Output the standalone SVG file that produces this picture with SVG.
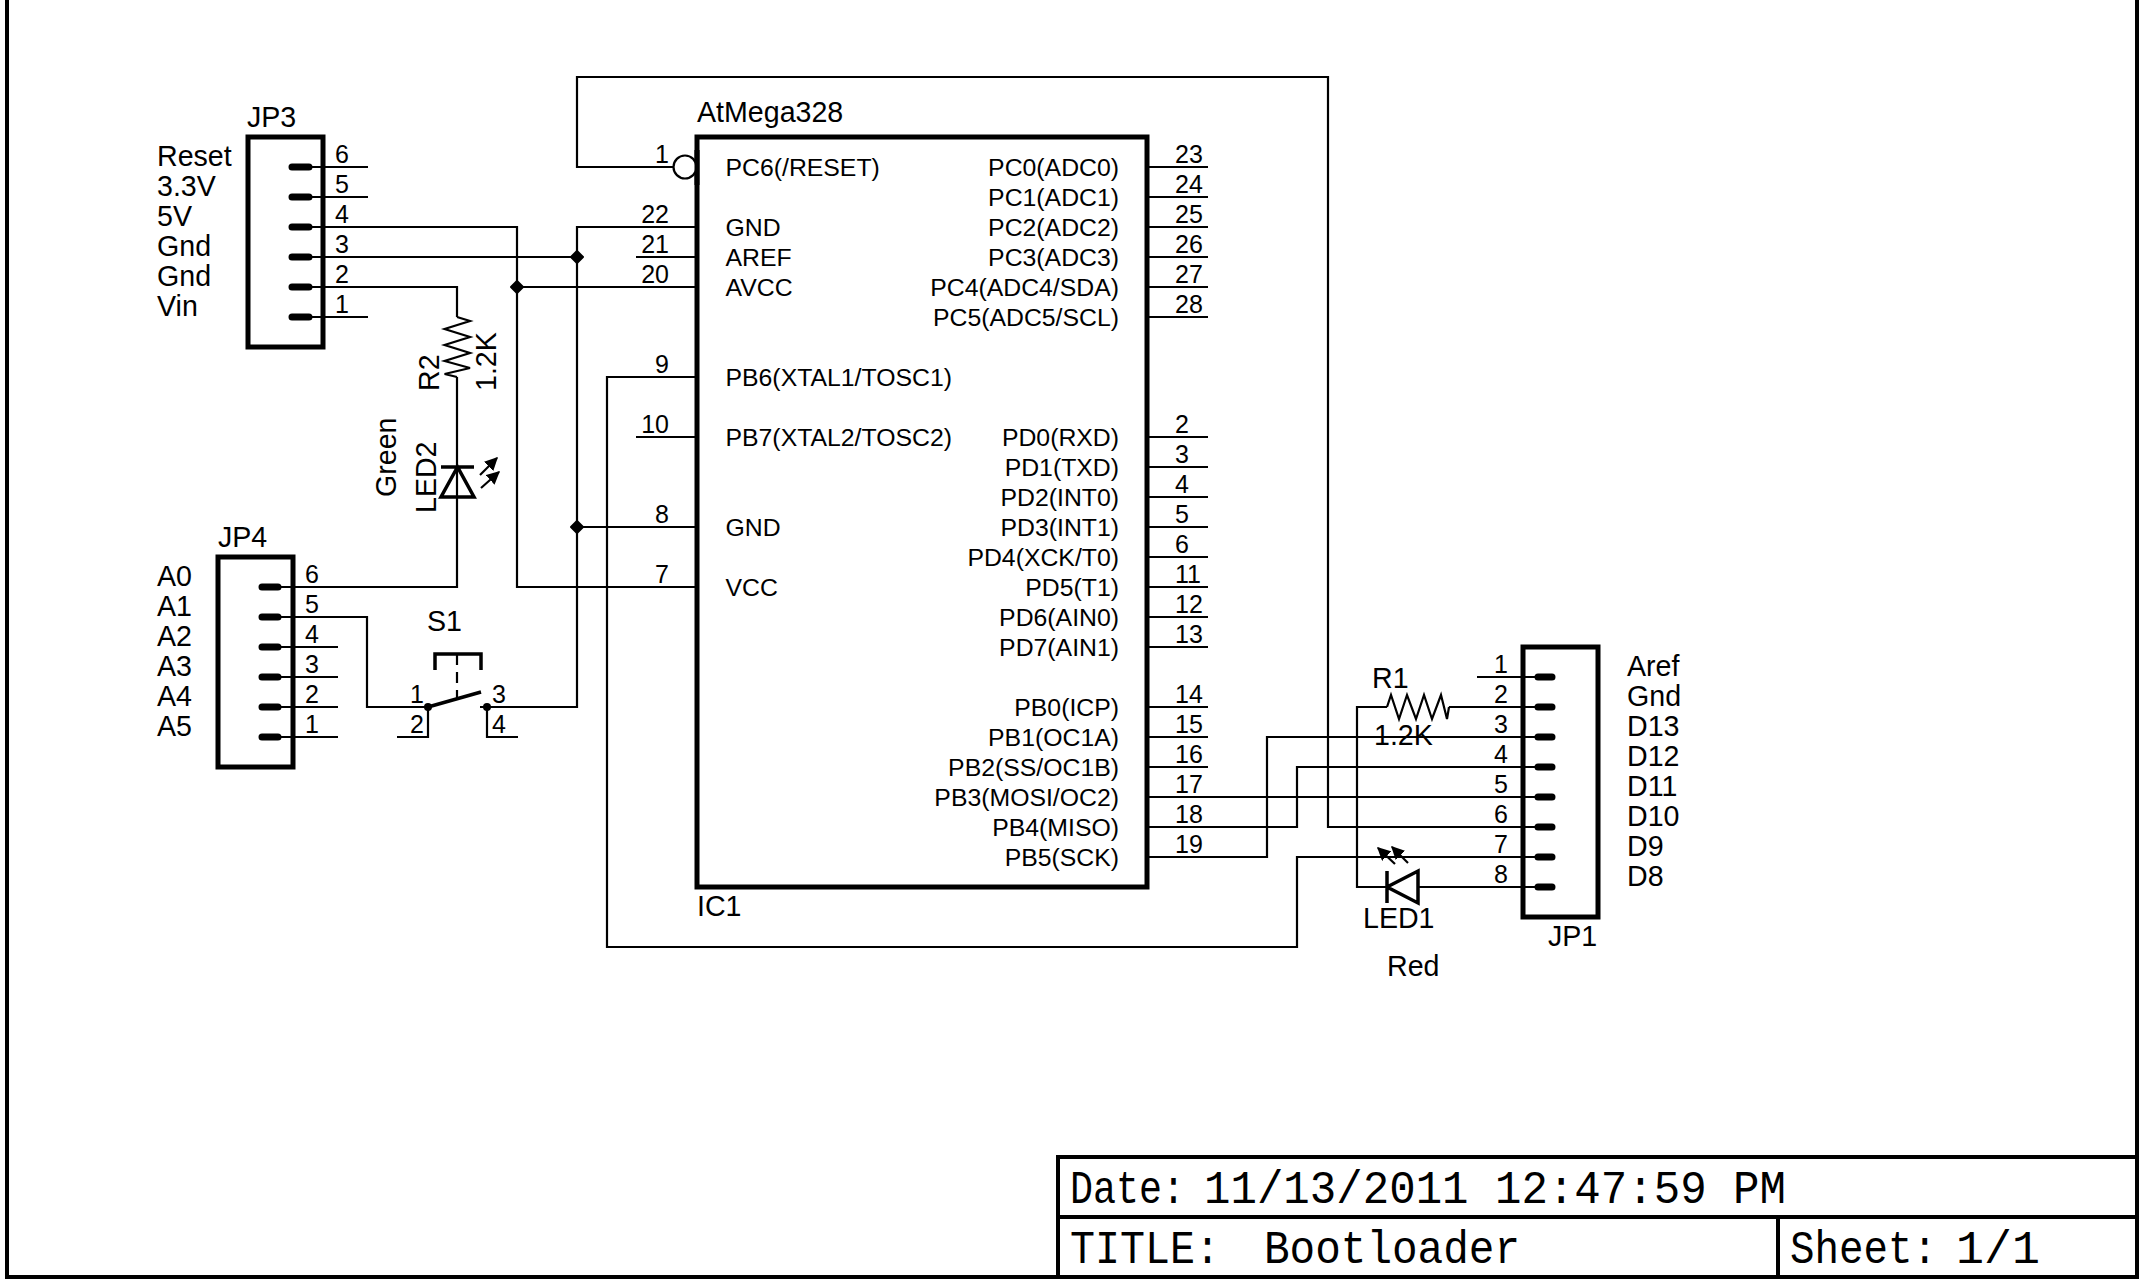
<svg xmlns="http://www.w3.org/2000/svg" width="2143" height="1285" viewBox="0 0 2143 1285">
<style>
text{font-family:"Liberation Sans",Arial,sans-serif;fill:#000}
.l{font-size:28.6px}
.n{font-size:25px}
.p{font-size:24.8px}
.r{text-anchor:end}
.t{font-family:"Liberation Mono","DejaVu Sans Mono",monospace;font-size:46px}
.w{fill:none;stroke:#000;stroke-width:2.2}
.f{fill:none;stroke:#000;stroke-width:4}
.b{fill:none;stroke:#000;stroke-width:5;stroke-linejoin:miter}
.pin{stroke:#000;stroke-width:7;stroke-linecap:round}
.sym{fill:none;stroke:#000;stroke-width:3.5}
</style>
<defs>
<polygon id="dot" points="0,-6 6,0 0,6 -6,0" fill="#000" stroke="#000" stroke-width="2" stroke-linejoin="round"/>
<marker id="ah" viewBox="0 0 10 10" refX="9" refY="5" markerWidth="6" markerHeight="6" orient="auto"><path d="M0,0L10,5L0,10z" fill="#000"/></marker>
</defs>
<rect width="2143" height="1285" fill="#fff"/>
<g id="frame">
<path class="f" d="M7,0V1277H2137V0"/>
<path class="f" d="M1058,1277V1157H2137M1058,1217H2137M1778,1217V1277"/>
<text class="t" y="1203"><tspan x="1070" textLength="115" lengthAdjust="spacingAndGlyphs">Date:</tspan><tspan x="1204" textLength="582" lengthAdjust="spacingAndGlyphs" xml:space="preserve">11/13/2011 12:47:59 PM</tspan></text>
<text class="t" y="1263"><tspan x="1070" textLength="150" lengthAdjust="spacingAndGlyphs">TITLE:</tspan><tspan x="1264" textLength="256" lengthAdjust="spacingAndGlyphs">Bootloader</tspan></text>
<text class="t" y="1263"><tspan x="1790" textLength="147" lengthAdjust="spacingAndGlyphs">Sheet:</tspan><tspan x="1956" textLength="84" lengthAdjust="spacingAndGlyphs">1/1</tspan></text>
</g>
<g id="connectors">
<path class="w" d="M673,167H577V77H1328V827H1545"/>
<path class="w" d="M697,227H577V707H487"/>
<path class="w" d="M312,257H577"/>
<path class="w" d="M636,257H697"/>
<path class="w" d="M312,227H517V587H697"/>
<path class="w" d="M517,287H697"/>
<path class="w" d="M577,527H697"/>
<path class="w" d="M312,287H457V317"/>
<path class="w" d="M457,377V587H281"/>
<path class="w" d="M697,377H607V947H1297V857H1545"/>
<path class="w" d="M636,437H697"/>
<path class="w" d="M281,617H367V707H428"/>
<path class="w" d="M1147,857H1267V737H1545"/>
<path class="w" d="M1147,827H1297V767H1545"/>
<path class="w" d="M1147,797H1545"/>
<path class="w" d="M1387,707H1357V887H1387"/>
<path class="w" d="M1449,707H1545"/>
<path class="w" d="M1418,887H1545"/>
<use href="#dot" x="577" y="257"/>
<use href="#dot" x="517" y="287"/>
<use href="#dot" x="577" y="527"/>
</g>
<g id="IC1">
<rect class="b" x="697" y="137" width="450" height="750"/>
<ellipse cx="685" cy="167" rx="11.5" ry="11.5" fill="#fff" stroke="#000" stroke-width="2.2"/>
<rect x="694.5" y="150" width="5" height="35" fill="#000"/>
<text class="l" x="697" y="122">AtMega328</text>
<text class="l" x="697" y="916">IC1</text>
<path class="w" d="M1147,167H1208M1147,197H1208M1147,227H1208M1147,257H1208M1147,287H1208M1147,317H1208M1147,437H1208M1147,467H1208M1147,497H1208M1147,527H1208M1147,557H1208M1147,587H1208M1147,617H1208M1147,647H1208M1147,707H1208M1147,737H1208M1147,767H1208"/>
<g class="p">
<text x="725.5" y="175.5">PC6(/RESET)</text>
<text x="725.5" y="235.5">GND</text>
<text x="725.5" y="265.5">AREF</text>
<text x="725.5" y="295.5">AVCC</text>
<text x="725.5" y="385.5">PB6(XTAL1/TOSC1)</text>
<text x="725.5" y="445.5">PB7(XTAL2/TOSC2)</text>
<text x="725.5" y="535.5">GND</text>
<text x="725.5" y="595.5">VCC</text>
</g>
<g class="p r">
<text x="1119" y="175.5">PC0(ADC0)</text>
<text x="1119" y="205.5">PC1(ADC1)</text>
<text x="1119" y="235.5">PC2(ADC2)</text>
<text x="1119" y="265.5">PC3(ADC3)</text>
<text x="1119" y="295.5">PC4(ADC4/SDA)</text>
<text x="1119" y="325.5">PC5(ADC5/SCL)</text>
<text x="1119" y="445.5">PD0(RXD)</text>
<text x="1119" y="475.5">PD1(TXD)</text>
<text x="1119" y="505.5">PD2(INT0)</text>
<text x="1119" y="535.5">PD3(INT1)</text>
<text x="1119" y="565.5">PD4(XCK/T0)</text>
<text x="1119" y="595.5">PD5(T1)</text>
<text x="1119" y="625.5">PD6(AIN0)</text>
<text x="1119" y="655.5">PD7(AIN1)</text>
<text x="1119" y="715.5">PB0(ICP)</text>
<text x="1119" y="745.5">PB1(OC1A)</text>
<text x="1119" y="775.5">PB2(SS/OC1B)</text>
<text x="1119" y="805.5">PB3(MOSI/OC2)</text>
<text x="1119" y="835.5">PB4(MISO)</text>
<text x="1119" y="865.5">PB5(SCK)</text>
</g>
<g class="n r">
<text x="669" y="163">1</text>
<text x="669" y="223">22</text>
<text x="669" y="253">21</text>
<text x="669" y="283">20</text>
<text x="669" y="373">9</text>
<text x="669" y="433">10</text>
<text x="669" y="523">8</text>
<text x="669" y="583">7</text>
</g>
<g class="n">
<text x="1175" y="163">23</text>
<text x="1175" y="193">24</text>
<text x="1175" y="223">25</text>
<text x="1175" y="253">26</text>
<text x="1175" y="283">27</text>
<text x="1175" y="313">28</text>
<text x="1175" y="433">2</text>
<text x="1175" y="463">3</text>
<text x="1175" y="493">4</text>
<text x="1175" y="523">5</text>
<text x="1175" y="553">6</text>
<text x="1175" y="583">11</text>
<text x="1175" y="613">12</text>
<text x="1175" y="643">13</text>
<text x="1175" y="703">14</text>
<text x="1175" y="733">15</text>
<text x="1175" y="763">16</text>
<text x="1175" y="793">17</text>
<text x="1175" y="823">18</text>
<text x="1175" y="853">19</text>
</g>
</g>
<g id="JP3">
<rect class="b" x="248" y="137" width="75" height="210"/>
<path class="pin" d="M292,167H309M292,197H309M292,227H309M292,257H309M292,287H309M292,317H309"/>
<path class="w" d="M312,167H368M312,197H368M312,317H368"/>
<text class="l" x="247" y="127">JP3</text>
<g class="l">
<text x="157" y="166">Reset</text>
<text x="157" y="196">3.3V</text>
<text x="157" y="226">5V</text>
<text x="157" y="256">Gnd</text>
<text x="157" y="286">Gnd</text>
<text x="157" y="316">Vin</text>
</g>
<g class="n">
<text x="335" y="163">6</text>
<text x="335" y="193">5</text>
<text x="335" y="223">4</text>
<text x="335" y="253">3</text>
<text x="335" y="283">2</text>
<text x="335" y="313">1</text>
</g>
</g>
<g id="JP4">
<rect class="b" x="218" y="557" width="75" height="210"/>
<path class="pin" d="M262,587H278M262,617H278M262,647H278M262,677H278M262,707H278M262,737H278"/>
<path class="w" d="M281,647H338M281,677H338M281,707H338M281,737H338"/>
<text class="l" x="218" y="547">JP4</text>
<g class="l">
<text x="157" y="586">A0</text>
<text x="157" y="616">A1</text>
<text x="157" y="646">A2</text>
<text x="157" y="676">A3</text>
<text x="157" y="706">A4</text>
<text x="157" y="736">A5</text>
</g>
<g class="n">
<text x="305" y="583">6</text>
<text x="305" y="613">5</text>
<text x="305" y="643">4</text>
<text x="305" y="673">3</text>
<text x="305" y="703">2</text>
<text x="305" y="733">1</text>
</g>
</g>
<g id="JP1">
<rect class="b" x="1523" y="647" width="75" height="270"/>
<path class="pin" d="M1538,677H1552M1538,707H1552M1538,737H1552M1538,767H1552M1538,797H1552M1538,827H1552M1538,857H1552M1538,887H1552"/>
<path class="w" d="M1477,677H1535"/>
<text class="l" x="1548" y="946">JP1</text>
<g class="l">
<text x="1627" y="676">Aref</text>
<text x="1627" y="706">Gnd</text>
<text x="1627" y="736">D13</text>
<text x="1627" y="766">D12</text>
<text x="1627" y="796">D11</text>
<text x="1627" y="826">D10</text>
<text x="1627" y="856">D9</text>
<text x="1627" y="886">D8</text>
</g>
<g class="n r">
<text x="1508" y="673">1</text>
<text x="1508" y="703">2</text>
<text x="1508" y="733">3</text>
<text x="1508" y="763">4</text>
<text x="1508" y="793">5</text>
<text x="1508" y="823">6</text>
<text x="1508" y="853">7</text>
<text x="1508" y="883">8</text>
</g>
</g>
<g id="R2">
<path class="w" d="M457,317L470,321L444.6,329L470,337L444.6,345L470,353L444.6,361L470,368L444.6,374L457,377"/>
<text class="l" transform="translate(439,391) rotate(-90)">R2</text>
<text class="l" transform="translate(496,391) rotate(-90)">1.2K</text>
</g>
<g id="LED2">
<path class="sym" d="M441,467H474M457.5,467L441,497H474Z"/>
<path class="w" marker-end="url(#ah)" d="M480,475L497,458"/>
<path class="w" marker-end="url(#ah)" d="M481,488L499,472"/>
<text class="l" transform="translate(396,497) rotate(-90)">Green</text>
<text class="l" transform="translate(436,513) rotate(-90)">LED2</text>
</g>
<g id="S1">
<path class="sym" d="M435,670V654H481V670"/>
<path class="w" stroke-dasharray="11,7" d="M457,654V698"/>
<path class="sym" d="M428,707L481,692"/>
<circle cx="428" cy="707" r="4" fill="#000"/>
<circle cx="487" cy="707" r="4" fill="#000"/>
<path class="w" d="M428,707V737H397M487,707V737H518M480,707H487"/>
<text class="l" x="427" y="631">S1</text>
<g class="n">
<text x="410" y="703">1</text>
<text x="410" y="733">2</text>
<text x="492" y="703">3</text>
<text x="492" y="733">4</text>
</g>
</g>
<g id="R1">
<path class="w" d="M1387,707L1391,695L1399,719L1407,695L1416,719L1424,695L1432,719L1441,695L1447,719L1449,707"/>
<text class="l" x="1372" y="688">R1</text>
<text class="l" x="1374" y="745">1.2K</text>
</g>
<g id="LED1">
<path class="sym" d="M1387,871V903M1387,887L1418,871V903Z"/>
<path class="w" marker-end="url(#ah)" d="M1395,864L1378,848"/>
<path class="w" marker-end="url(#ah)" d="M1408,863L1392,847"/>
<text class="l" x="1363" y="928">LED1</text>
<text class="l" x="1387" y="976">Red</text>
</g>
</svg>
